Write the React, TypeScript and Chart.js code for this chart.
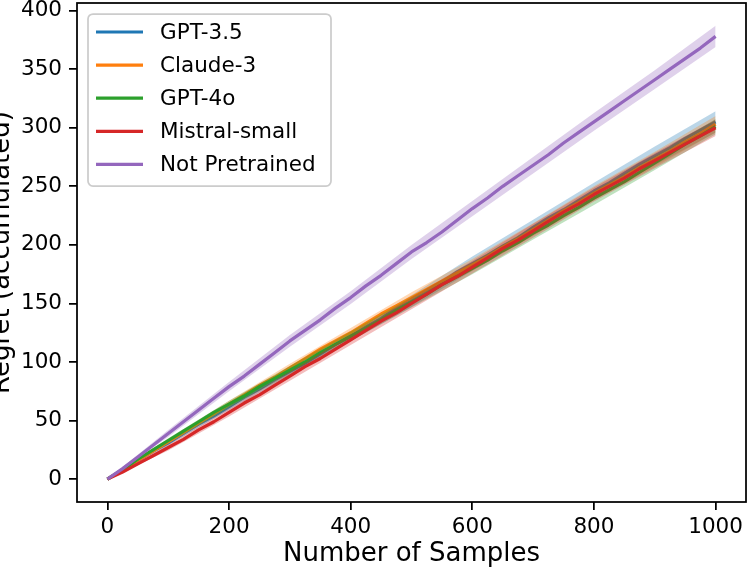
import { useEffect, useRef } from "react";
import { Chart, registerables } from "chart.js";

Chart.register(...registerables);

// samples at every 25 steps
const samples = [
  0, 25, 50, 75, 100, 125, 150, 175, 200, 225, 250, 275, 300, 325, 350, 375, 400, 425, 450, 475, 500,
  525, 550, 575, 600, 625, 650, 675, 700, 725, 750, 775, 800, 825, 850, 875, 900, 925, 950, 975, 1000,
];

const gpt35 = [
  0, 8, 16, 24, 31, 39, 47, 54, 62, 70, 77, 85, 92, 99, 107, 115, 122, 130, 137, 146, 152,
  160, 168, 177, 184, 191, 199, 206, 215, 223, 230, 238, 246, 253, 261, 269, 276, 283, 291, 298, 305,
];
const claude3 = [
  0, 8, 16, 24, 32, 40, 48, 56, 64, 72, 80, 87, 95, 103, 111, 118, 125, 133, 141, 148, 155,
  162, 169, 176, 183, 190, 198, 205, 213, 221, 229, 236, 244, 251, 258, 266, 273, 280, 288, 295, 303,
];
const gpt4o = [
  0, 8, 17, 25, 33, 41, 49, 57, 64, 71, 79, 86, 93, 100, 108, 115, 122, 129, 136, 144, 151,
  158, 166, 173, 180, 187, 195, 202, 210, 217, 225, 232, 240, 247, 254, 262, 270, 278, 286, 293, 301,
];
const mistralSmall = [
  0, 6, 13, 20, 27, 34, 42, 49, 57, 65, 72, 80, 88, 96, 103, 111, 119, 127, 135, 142, 150,
  158, 166, 173, 181, 189, 197, 204, 212, 220, 228, 235, 243, 250, 257, 265, 272, 279, 286, 293, 300,
];
const notPretrained = [
  0, 9, 19, 29, 39, 49, 59, 69, 79, 88, 98, 108, 118, 127, 136, 146, 155, 165, 174, 184, 194,
  202, 211, 221, 231, 240, 250, 259, 268, 277, 287, 296, 305, 314, 323, 332, 341, 350, 359, 368, 378,
];

// spread of the shaded band, every 100 samples
const bandSamples = [0, 100, 200, 300, 400, 500, 600, 700, 800, 900, 1000];
const gpt35Spread = [0, 2, 3, 3.5, 4, 5, 6, 6.5, 7, 8, 9];
const claude3Spread = [0, 2, 3, 3.5, 4, 4.5, 5, 5.5, 6, 6.5, 7];
const gpt4oSpread = [0, 2, 3, 3.5, 4, 4.5, 5, 5.5, 6, 6, 6.5];
const mistralSpread = [0, 2.5, 3.5, 4, 4.5, 5, 5.5, 6, 6, 6.5, 7];
const notPretrainedSpread = [0, 3, 4, 5, 5.5, 6, 6.5, 7, 7.5, 8, 9];

const seriesNames = ["GPT-3.5", "Claude-3", "GPT-4o", "Mistral-small", "Not Pretrained"];
const seriesColors = ["#1f77b4", "#ff7f0e", "#2ca02c", "#d62728", "#9467bd"];
const seriesBands = ["rgba(31,119,180,0.3)", "rgba(255,127,14,0.3)", "rgba(44,160,44,0.3)", "rgba(214,39,40,0.3)", "rgba(148,103,189,0.3)"];

const xTicks = [0, 200, 400, 600, 800, 1000];
const yTicks = [0, 50, 100, 150, 200, 250, 300, 350, 400];

const FONT = "DejaVu Sans";

const frame = {
  id: "frame",
  afterDatasetsDraw(chart: Chart) {
    const { ctx, chartArea: a } = chart;
    ctx.save();
    ctx.strokeStyle = "#000";
    ctx.lineWidth = 1.75;
    ctx.strokeRect(a.left, a.top, a.right - a.left, a.bottom - a.top);
    ctx.restore();
  },
};

const boxLegend = {
  id: "boxLegend",
  afterDraw(chart: Chart) {
    const { ctx, chartArea: a } = chart;
    const x = a.left + 11;
    const y = a.top + 11;
    const w = 243;
    const h = 172;
    ctx.save();
    ctx.beginPath();
    ctx.roundRect(x, y, w, h, 5);
    ctx.fillStyle = "rgba(255,255,255,0.8)";
    ctx.fill();
    ctx.strokeStyle = "#cccccc";
    ctx.lineWidth = 1.75;
    ctx.stroke();
    ctx.font = `21.5px "${FONT}"`;
    ctx.textBaseline = "middle";
    ctx.textAlign = "left";
    seriesNames.forEach((name, i) => {
      const ry = y + 18 + i * 33.1;
      ctx.strokeStyle = seriesColors[i];
      ctx.lineWidth = 3.2;
      ctx.beginPath();
      ctx.moveTo(x + 8, ry);
      ctx.lineTo(x + 55, ry);
      ctx.stroke();
      ctx.fillStyle = "#000";
      ctx.fillText(name, x + 72, ry + 1);
    });
    ctx.restore();
  },
};

export default function App() {
  const canvasRef = useRef<HTMLCanvasElement>(null);

  useEffect(() => {
    if (!canvasRef.current) return;
    const ctx = canvasRef.current.getContext("2d");
    if (!ctx) return;

    const lines = [gpt35, claude3, gpt4o, mistralSmall, notPretrained];
    const spreads = [gpt35Spread, claude3Spread, gpt4oSpread, mistralSpread, notPretrainedSpread];

    const datasets: any[] = [];
    lines.forEach((vals, i) => {
      const base = 20 - i * 4;
      datasets.push({
        label: seriesNames[i],
        data: samples.map((s, k) => ({ x: s, y: vals[k] })),
        borderColor: seriesColors[i],
        borderWidth: 3.2,
        borderJoinStyle: "round",
        pointRadius: 0,
        fill: false,
        order: base,
      });
      const mid = bandSamples.map((s) => vals[samples.indexOf(s)]);
      datasets.push({
        label: seriesNames[i] + " upper",
        data: bandSamples.map((s, k) => ({ x: s, y: mid[k] + spreads[i][k] })),
        borderWidth: 0,
        pointRadius: 0,
        backgroundColor: seriesBands[i],
        fill: "+1",
        order: base - 1,
      });
      datasets.push({
        label: seriesNames[i] + " lower",
        data: bandSamples.map((s, k) => ({ x: s, y: mid[k] - spreads[i][k] })),
        borderWidth: 0,
        pointRadius: 0,
        fill: false,
        order: base - 2,
      });
    });

    const chart = new Chart(ctx, {
      type: "line",
      data: { datasets },
      options: {
        responsive: false,
        animation: false,
        devicePixelRatio: 1,
        layout: { padding: { top: 3, right: 4, left: 0, bottom: 0 } },
        plugins: { legend: { display: false }, tooltip: { enabled: false } },
        scales: {
          x: {
            type: "linear",
            min: -50,
            max: 1050,
            afterBuildTicks: (s: any) => {
              s.ticks = xTicks.map((v) => ({ value: v }));
            },
            afterFit: (s: any) => {
              s.height = 69;
              s.paddingLeft = 0;
              s.paddingRight = 0;
            },
            border: { display: false },
            grid: { drawOnChartArea: false, drawTicks: true, tickLength: 8, color: "#000", lineWidth: 1.75 },
            ticks: {
              color: "#000",
              font: { family: FONT, size: 21.5 },
              padding: 5,
              maxRotation: 0,
              autoSkip: false,
              callback: (v: any) => String(v),
            },
            title: {
              display: true,
              text: "Number of Samples",
              color: "#000",
              font: { family: FONT, size: 26 },
              padding: { bottom: 1, top: 0 },
            },
          },
          y: {
            type: "linear",
            min: -19.5,
            max: 406.5,
            afterBuildTicks: (s: any) => {
              s.ticks = yTicks.map((v) => ({ value: v }));
            },
            afterFit: (s: any) => {
              s.width = 77;
              s.paddingTop = 0;
              s.paddingBottom = 0;
            },
            border: { display: false },
            grid: { drawOnChartArea: false, drawTicks: true, tickLength: 8, color: "#000", lineWidth: 1.75 },
            ticks: {
              color: "#000",
              font: { family: FONT, size: 21.5 },
              padding: 7,
              autoSkip: false,
              callback: (v: any) => String(v),
            },
            title: {
              display: true,
              text: "Regret (accumulated)",
              color: "#000",
              font: { family: FONT, size: 26 },
              padding: { top: -13, bottom: 0 },
            },
          },
        },
      },
      plugins: [frame, boxLegend],
    });

    return () => {
      chart.destroy();
    };
  }, []);

  return (
    <div style={{ position: "absolute", left: 0, top: 0, width: 750, height: 571, background: "#fff" }}>
      <canvas ref={canvasRef} width={750} height={571} style={{ display: "block" }} />
    </div>
  );
}
